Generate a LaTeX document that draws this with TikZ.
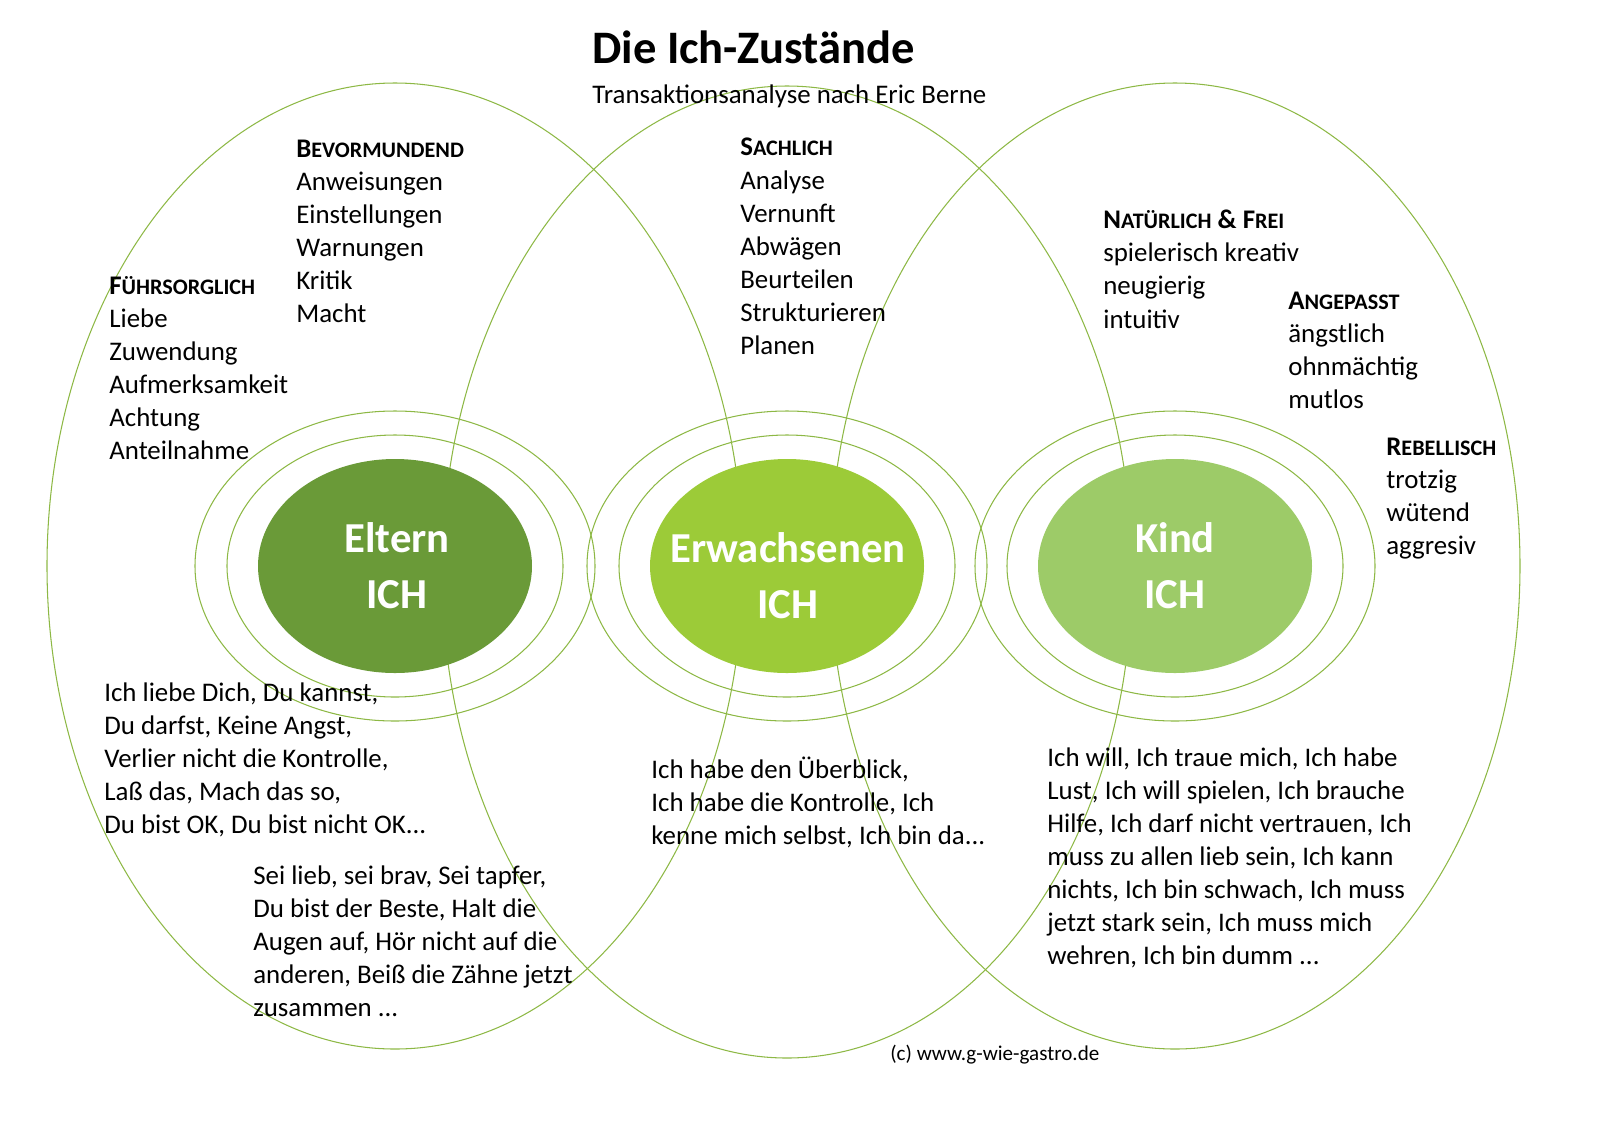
\documentclass[tikz,border=0pt]{standalone}
\usepackage{fontspec}
\setmainfont{Carlito}
\definecolor{ring}{HTML}{8DB845}
\definecolor{eltern}{HTML}{6A9A38}
\definecolor{erw}{HTML}{9CCB38}
\definecolor{kind}{HTML}{9DCB68}
\newcommand{\sch}[2]{\textbf{#1{\fontsize{12.6}{14}\selectfont #2}}}
\begin{document}
\begin{tikzpicture}[x=0.02cm,y=-0.02cm,
 big/.style={draw=ring,line width=0.6pt},
 rg/.style={draw=ring,line width=0.6pt},
 txt/.style={anchor=north west,align=left,font=\fontsize{15.3}{18.8}\selectfont,inner sep=0pt},
 core/.style={text=white,font=\fontsize{24.3}{32}\selectfont\bfseries,align=center}]
\useasboundingbox (0,0) rectangle (1600,1127);
% big ellipses
\draw[big] (395,566) ellipse [x radius=348,y radius=483];
\draw[big] (787,572) ellipse [x radius=345,y radius=486];
\draw[big] (1175,566) ellipse [x radius=345,y radius=483];
% rings
\foreach \cx/\col/\nm in {395/eltern/e,787/erw/w,1175/kind/k}{
 \draw[rg] (\cx,566) ellipse [x radius=200,y radius=155];
 \draw[rg] (\cx,566) ellipse [x radius=168,y radius=131];
 \fill[\col] (\cx,566) ellipse [x radius=137,y radius=107];
}
\node[core] (eltern) at (397,566) {Eltern\\ICH};
\node[core] (erw) at (788,576) {Erwachsenen\\ICH};
\node[core] (kind) at (1175,566) {Kind\\ICH};
% title
\node[anchor=north west,font=\fontsize{26.5}{30}\selectfont\bfseries,inner sep=0pt] (title) at (592,30) {Die Ich-Zustände};
\node[anchor=north west,font=\fontsize{15.3}{18}\selectfont,inner sep=0pt] (sub) at (592,84) {Transaktionsanalyse nach Eric Berne};
% texts
\node[txt] (bev) at (296,140) {\sch{B}{EVORMUNDEND}\\Anweisungen\\Einstellungen\\Warnungen\\Kritik\\Macht};
\node[txt] (fuer) at (109,276) {\sch{F}{ÜHRSORGLICH}\\Liebe\\Zuwendung\\Aufmerksamkeit\\Achtung\\Anteilnahme};
\node[txt] (sach) at (740,138) {\sch{S}{ACHLICH}\\Analyse\\Vernunft\\Abwägen\\Beurteilen\\Strukturieren\\Planen};
\node[txt] (nat) at (1103,210) {\sch{N}{ATÜRLICH} \textbf{\&} \sch{F}{REI}\\spielerisch kreativ\\neugierig\\intuitiv};
\node[txt] (ang) at (1288,292) {\sch{A}{NGEPASST}\\ängstlich\\ohnmächtig\\mutlos};
\node[txt] (reb) at (1386,438) {\sch{R}{EBELLISCH}\\trotzig\\wütend\\aggresiv};
\node[txt] (el1) at (104,682) {Ich liebe Dich, Du kannst,\\Du darfst, Keine Angst,\\Verlier nicht die Kontrolle,\\Laß das, Mach das so,\\Du bist OK, Du bist nicht OK...};
\node[txt] (el2) at (253,865) {Sei lieb, sei brav, Sei tapfer,\\Du bist der Beste, Halt die\\Augen auf, Hör nicht auf die\\anderen, Beiß die Zähne jetzt\\zusammen ...};
\node[txt] (er1) at (651,757) {Ich habe den Überblick,\\Ich habe die Kontrolle, Ich\\kenne mich selbst, Ich bin da...};
\node[txt] (ki1) at (1047,747) {Ich will, Ich traue mich, Ich habe\\Lust, Ich will spielen, Ich brauche\\Hilfe, Ich darf nicht vertrauen, Ich\\muss zu allen lieb sein, Ich kann\\nichts, Ich bin schwach, Ich muss\\jetzt stark sein, Ich muss mich\\wehren, Ich bin dumm ...};
\node[anchor=north west,inner sep=0pt,font=\fontsize{12}{14}\selectfont] (copy) at (890,1045) {(c) www.g-wie-gastro.de};
\end{tikzpicture}
\end{document}
